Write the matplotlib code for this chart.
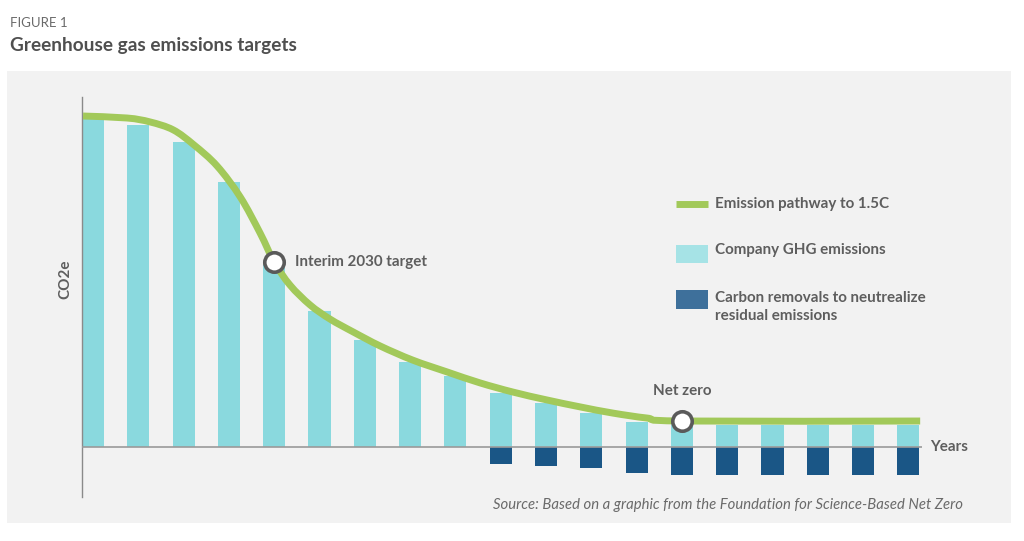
import matplotlib
matplotlib.use("Agg")
import matplotlib.pyplot as plt
from matplotlib.patches import Rectangle, PathPatch
from matplotlib.lines import Line2D
from matplotlib.path import Path

plt.rcParams['font.family'] = ['Lato', 'DejaVu Sans']

# ---- data (arbitrary CO2e units, first bar = 100) ----
years_idx = list(range(19))
company_emissions = [100, 97.9, 92.7, 80.5, 55.3, 41.3, 32.5, 25.8, 21.6, 16.4,
                     13.4, 10.3, 7.6, 6.7, 6.7, 6.7, 6.7, 6.7, 6.7]
carbon_removals = [0, 0, 0, 0, 0, 0, 0, 0, 0, -5.2,
                   -5.8, -6.4, -7.9, -8.5, -8.5, -8.5, -8.5, -8.5, -8.5]
# emission pathway (x in bar-index units)
path_x = [-0.22, 0.75, 1.26, 1.77, 2.23, 2.74, 3.25, 3.69, 4.0, 4.35, 4.79, 5.23,
          5.74, 6.34, 7.06, 7.82, 8.54, 9.27, 10.02, 10.75, 11.48, 12.23, 13.0, 18.26]
path_y = [100.6, 100.0, 98.8, 96.4, 91.8, 85.4, 76.0, 65.0, 56.2, 49.2, 43.2, 38.9,
          35.0, 30.7, 26.4, 22.8, 19.5, 16.7, 14.3, 12.2, 10.3, 8.8, 7.9, 7.9]
interim_idx, interim_val = 4.0, 56.2
netzero_idx, netzero_val = 13.0, 7.9

title_small = "FIGURE 1"
title = "Greenhouse gas emissions targets"
legend_labels = ["Emission pathway to 1.5C", "Company GHG emissions",
                 "Carbon removals to neutrealize\nresidual emissions"]
source = "Source: Based on a graphic from the Foundation for Science-Based Net Zero"

# ---- colours ----
GREEN = "#A2C95A"
CYAN = "#8AD9DE"
DARK = "#1A5686"
CYAN_LEG = "#A6E3E6"
DARK_LEG = "#3E709B"
TXT = "#5E5E5E"
PANEL = "#F2F2F2"


def smooth_path(xs, ys):
    """Catmull-Rom curve through the read points, drawn as cubic Bezier segments."""
    pts = list(zip(xs, ys))
    verts = [pts[0]]
    codes = [Path.MOVETO]
    n = len(pts)
    for k in range(n - 1):
        p0 = pts[k - 1] if k > 0 else pts[k]
        p1 = pts[k]
        p2 = pts[k + 1]
        p3 = pts[k + 2] if k + 2 < n else pts[k + 1]
        c1 = (p1[0] + (p2[0] - p0[0]) / 6, p1[1] + (p2[1] - p0[1]) / 6)
        c2 = (p2[0] - (p3[0] - p1[0]) / 6, p2[1] - (p3[1] - p1[1]) / 6)
        verts += [c1, c2, p2]
        codes += [Path.CURVE4] * 3
    return Path(verts, codes)


W, H = 1024, 541
fig = plt.figure(figsize=(W / 100, H / 100), dpi=100, facecolor="white")

# overlay axes in pixel coordinates (for panel, titles, legend)
ov = fig.add_axes([0, 0, 1, 1], zorder=0)
ov.set_xlim(0, W)
ov.set_ylim(H, 0)
ov.axis("off")
ov.add_patch(Rectangle((7, 71), 1004, 452, facecolor=PANEL, edgecolor="none"))
ov.text(10, 23, title_small, fontsize=9.5, color="#6A6A6A", va="center", ha="left")
ov.text(10, 45, title, fontsize=13.7, fontweight="bold", color="#4F4F4F", va="center", ha="left")

# legend
ov.add_line(Line2D([676, 708], [204, 204], color=GREEN, lw=5, solid_capstyle="butt"))
ov.add_patch(Rectangle((676, 245), 32, 18, facecolor=CYAN_LEG, edgecolor="none"))
ov.add_patch(Rectangle((676, 290), 32, 19, facecolor=DARK_LEG, edgecolor="none"))
ov.text(715, 204, legend_labels[0], fontsize=10.9, fontweight="bold", color=TXT, va="center")
ov.text(715, 250, legend_labels[1], fontsize=10.9, fontweight="bold", color=TXT, va="center")
ov.text(715, 307, legend_labels[2], fontsize=10.9, fontweight="bold", color=TXT, va="center",
        linespacing=1.3)
ov.text(963, 505, source, fontsize=10.7, style="italic", color="#6A6A6A", va="center", ha="right")

# data axes
left_px, right_px, top_px, bot_px = 82, 1000, 97, 497
ax = fig.add_axes([left_px / W, 1 - bot_px / H, (right_px - left_px) / W, (bot_px - top_px) / H],
                  zorder=1)
ax.patch.set_alpha(0)
px_per_idx = 45.3
x0_px = 93
px_per_unit = 3.29
base_px = 447
ax.set_xlim((left_px - x0_px) / px_per_idx, (right_px - x0_px) / px_per_idx)
ax.set_ylim(-(bot_px - base_px) / px_per_unit, (base_px - top_px) / px_per_unit)

for s in ["top", "right", "bottom"]:
    ax.spines[s].set_visible(False)
ax.spines["left"].set_color("#8A8A8A")
ax.spines["left"].set_linewidth(1.0)
ax.set_xticks([])
ax.set_yticks([])

bw = 0.486
ax.bar(years_idx, company_emissions, width=bw, color=CYAN, zorder=2)
ax.bar(years_idx, carbon_removals, width=bw, color=DARK, zorder=2)
ax.hlines(0, ax.get_xlim()[0], years_idx[-1] + 0.3, color="#9A9A9A", lw=1.2, zorder=3)
ax.add_patch(PathPatch(smooth_path(path_x, path_y), facecolor="none", edgecolor=GREEN,
                       lw=5, capstyle="butt", joinstyle="round", zorder=4))
ax.plot([interim_idx, netzero_idx], [interim_val, netzero_val], "o", ms=14,
        mfc="white", mec="#5A5A5A", mew=2.6, zorder=5)

ax.text(interim_idx + 0.46, interim_val, "Interim 2030 target", fontsize=10.9, fontweight="bold",
        color=TXT, va="center", ha="left")
ax.text(netzero_idx, netzero_val + 9, "Net zero", fontsize=10.9, fontweight="bold",
        color=TXT, va="center", ha="center")
ax.text(years_idx[-1] + 0.47, 0, "Years", fontsize=10.9, fontweight="bold",
        color=TXT, va="center", ha="left")
ax.text(-0.6, 51, "CO2e", fontsize=10.9, fontweight="bold", color=TXT,
        rotation=90, va="center", ha="center")

fig.savefig("out.png", dpi=100, facecolor="white")
